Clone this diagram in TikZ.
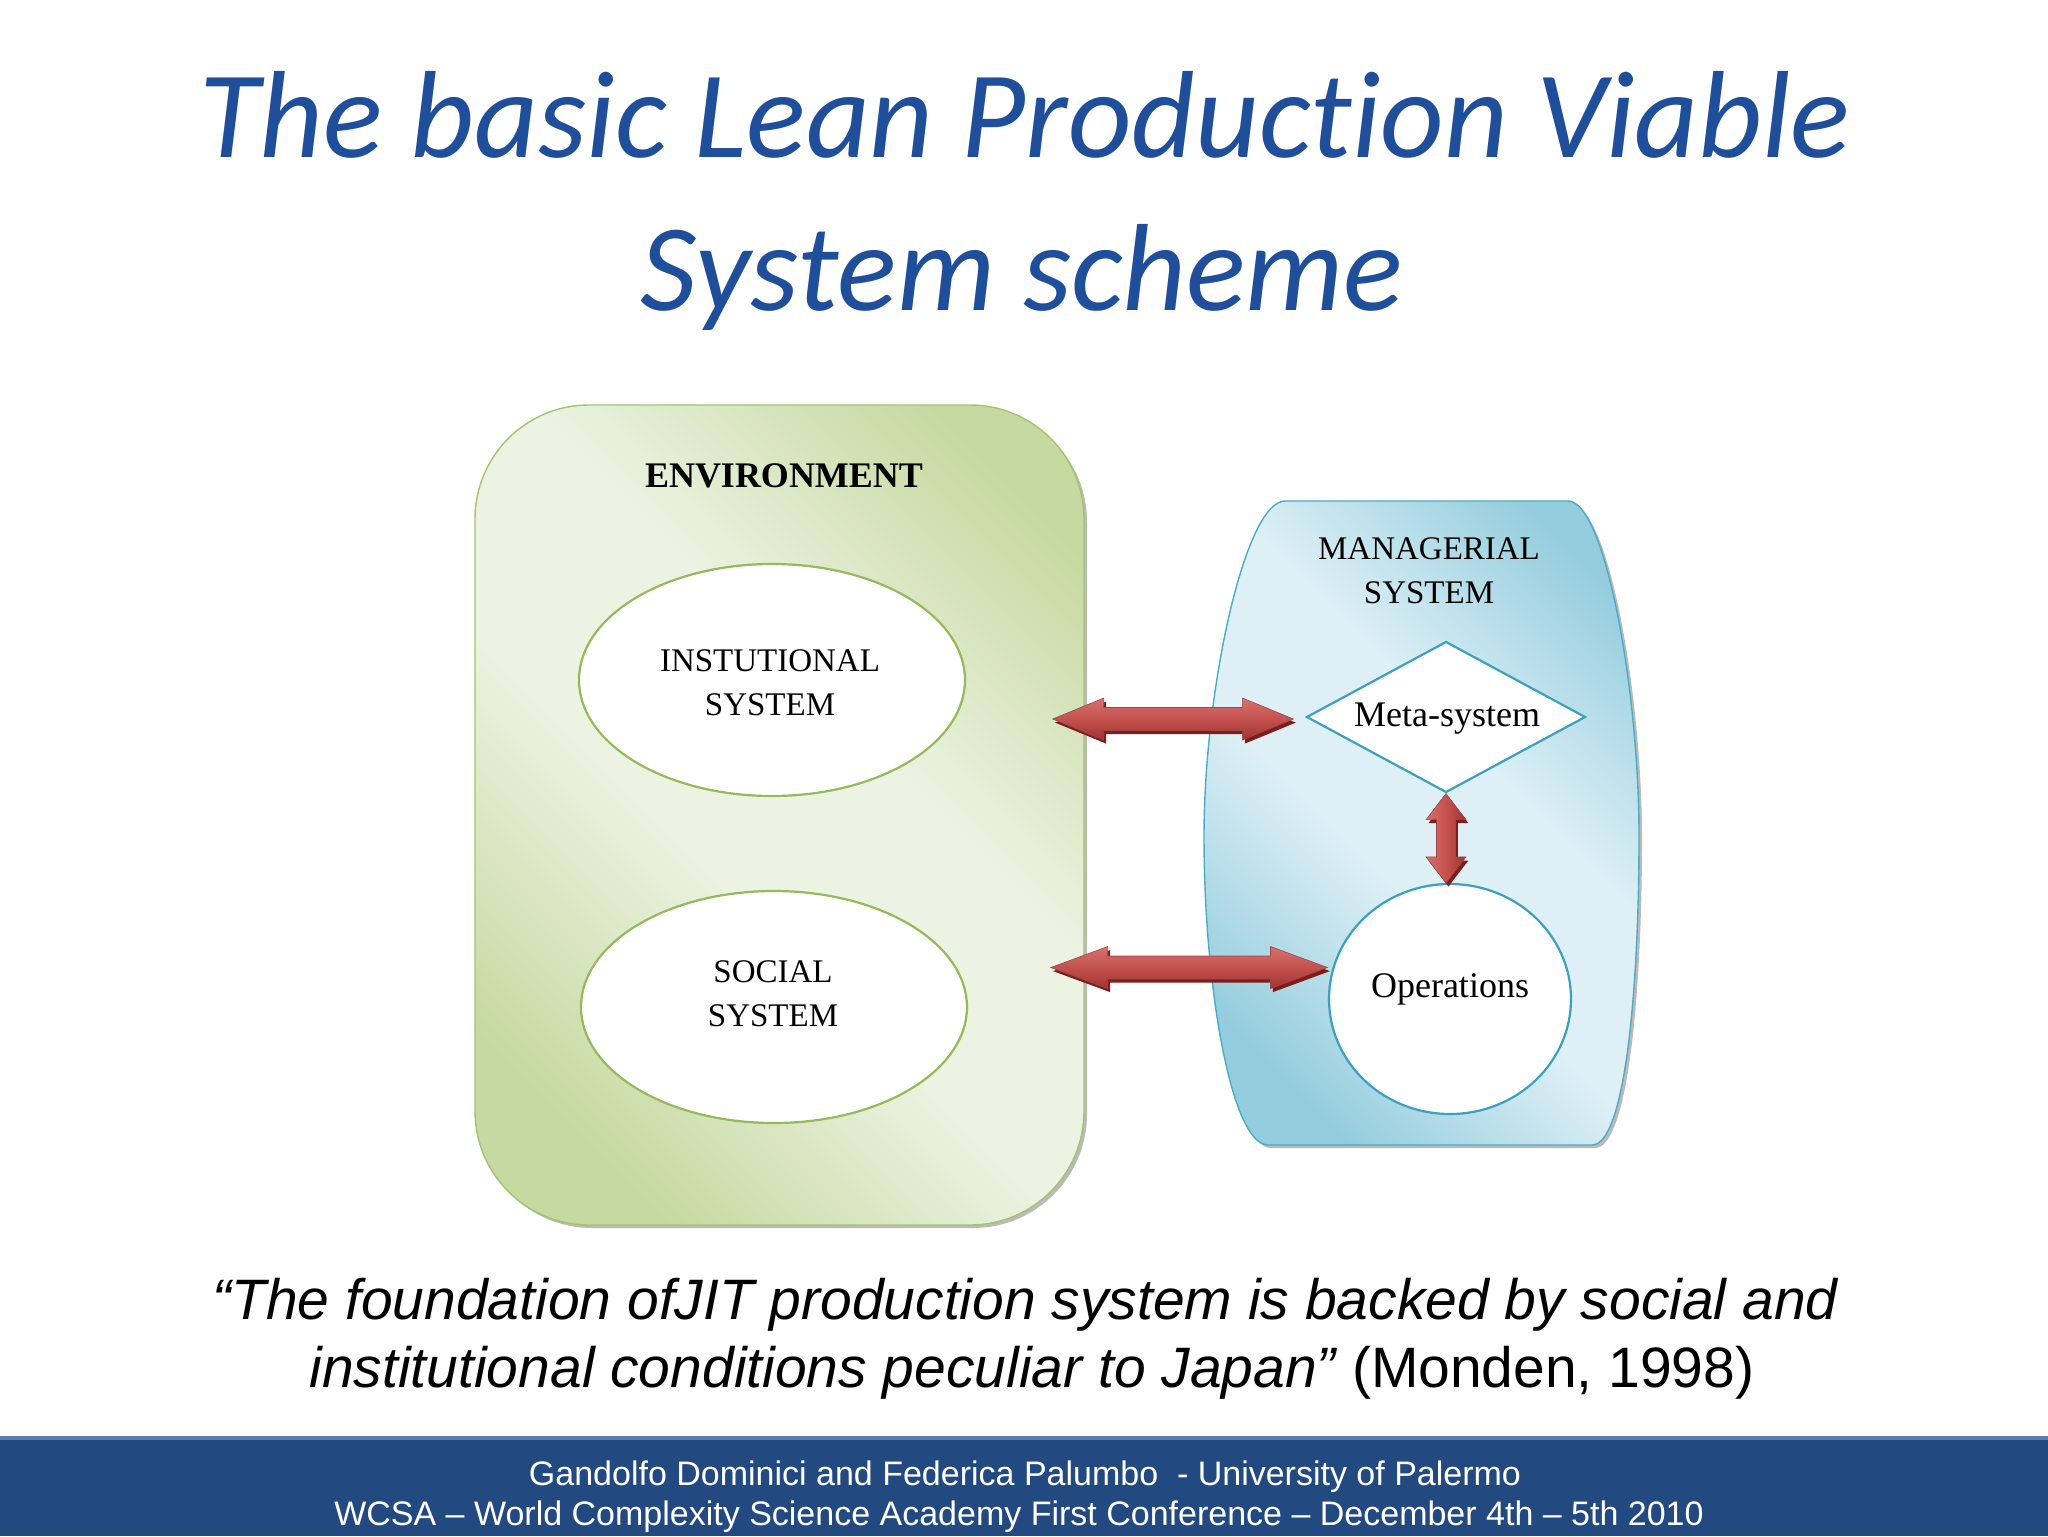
\documentclass[tikz,border=0pt]{standalone}
\usepackage{fontspec}
\setmainfont{Liberation Serif}
\newfontfamily\titlefont[Ligatures={NoCommon,NoRare,NoDiscretionary}]{Carlito}
\newfontfamily\arialfont{Liberation Sans}
\usetikzlibrary{shapes.geometric,shadows,calc}

\definecolor{titleblue}{RGB}{31,78,154}
\definecolor{envborder}{RGB}{165,195,110}
\definecolor{ellborder}{RGB}{150,185,90}
\definecolor{envlight}{RGB}{236,243,226}
\definecolor{envdark}{RGB}{198,217,160}
\definecolor{manlight}{RGB}{222,240,246}
\definecolor{mandark}{RGB}{148,205,221}
\definecolor{manborder}{RGB}{75,172,198}
\definecolor{shapeborder}{RGB}{60,160,190}
\definecolor{arrowtop}{RGB}{215,112,108}
\definecolor{arrowmid}{RGB}{196,82,79}
\definecolor{arrowbot}{RGB}{160,50,47}
\definecolor{arrowshadow}{RGB}{125,30,28}
\definecolor{footerblue}{RGB}{35,74,128}
\definecolor{footerline}{RGB}{95,125,170}

\pgfdeclarehorizontalshading{envshade}{100bp}{color(0bp)=(envdark); color(24bp)=(envdark); color(44bp)=(envlight); color(58bp)=(envlight); color(78bp)=(envdark); color(100bp)=(envdark)}
\pgfdeclarehorizontalshading{manshade}{100bp}{color(0bp)=(mandark); color(24bp)=(mandark); color(44bp)=(manlight); color(58bp)=(manlight); color(78bp)=(mandark); color(100bp)=(mandark)}

% horizontal block double arrow: #1 start, #2 end, #3 head length, #4 head half width, #5 shaft half width
\newcommand\hblockarrow[5]{(#1) -- ($(#1)+(#3,-#4)$) -- ($(#1)+(#3,-#5)$) -- ($(#2)+(-#3,-#5)$) -- ($(#2)+(-#3,-#4)$) -- (#2) -- ($(#2)+(-#3,#4)$) -- ($(#2)+(-#3,#5)$) -- ($(#1)+(#3,#5)$) -- ($(#1)+(#3,#4)$) -- cycle}
% vertical block double arrow (start on top)
\newcommand\vblockarrow[5]{(#1) -- ($(#1)+(#4,#3)$) -- ($(#1)+(#5,#3)$) -- ($(#2)+(#5,-#3)$) -- ($(#2)+(#4,-#3)$) -- (#2) -- ($(#2)+(-#4,-#3)$) -- ($(#2)+(-#5,-#3)$) -- ($(#1)+(-#5,#3)$) -- ($(#1)+(-#4,#3)$) -- cycle}

\tikzset{
  titletext/.style={anchor=base, text=titleblue, font=\titlefont\itshape\fontsize{62}{62}\selectfont, inner sep=0},
  envbox/.style={rectangle, rounded corners=57pt, draw=envborder, line width=0.7pt,
     shading=envshade, shading angle=45,
     drop shadow={shadow xshift=1.5pt, shadow yshift=-1.5pt, fill=black!45, opacity=0.6}},
  sysell/.style={ellipse, draw=ellborder, line width=1.1pt, fill=white, inner sep=0},
  capslabel/.style={align=center, font=\fontsize{16.5}{22}\selectfont, inner sep=0},
  mantext/.style={font=\fontsize{18}{22}\selectfont, inner sep=0},
  manshape/.style={draw=manborder, line width=0.7pt,
     shading=manshade, shading angle=45,
     drop shadow={shadow xshift=1.5pt, shadow yshift=-1.5pt, fill=black!45, opacity=0.6}},
  metabox/.style={diamond, draw=shapeborder, line width=1.1pt, fill=white, inner sep=0},
  opsbox/.style={ellipse, draw=shapeborder, line width=1.1pt, fill=white, inner sep=0},
  arrowbody/.style={top color=arrowtop, bottom color=arrowbot, middle color=arrowmid, draw=arrowshadow!80, line width=0.3pt},
  arrowbodyv/.style={left color=arrowtop, right color=arrowbot, middle color=arrowmid, draw=arrowshadow!80, line width=0.3pt},
  arrowshade/.style={fill=arrowshadow, transform canvas={xshift=1.2pt, yshift=-1.8pt}},
  quotetext/.style={anchor=base, font=\arialfont\fontsize{28.5}{28.5}\selectfont, inner sep=0},
  foottext/.style={anchor=base, text=white, font=\arialfont\fontsize{17}{17}\selectfont, inner sep=0}
}

\begin{document}
\begin{tikzpicture}[x=0.5pt, y=-0.5pt]
\useasboundingbox (0,0) rectangle (2048,1536);
\fill[white] (0,0) rectangle (2048,1536);

% title
\node[titletext] (title1) at (1025,157) {The basic Lean Production Viable};
\node[titletext] (title2) at (1022,310) {System scheme};

% environment
\node[envbox, minimum width=304.5pt, minimum height=410pt] (env) at (779.5,815) {};
\node[anchor=base, font=\bfseries\fontsize{18}{18}\selectfont, inner sep=0] (envlab) at (784,487) {ENVIRONMENT};
\node[sysell, minimum width=193pt, minimum height=116pt] (inst) at (772,680) {};
\node[capslabel] (instlab) at (770,683) {INSTUTIONAL\\SYSTEM};
\node[sysell, minimum width=193pt, minimum height=116pt] (soc) at (774,1007) {};
\node[capslabel] (soclab) at (773,994) {SOCIAL\\SYSTEM};

% managerial system
\path[manshape] (1285,501) -- (1568,501)
   .. controls (1605,501) and (1639,690) .. (1639,836)
   .. controls (1639,990) and (1625,1145) .. (1592,1145)
   -- (1268,1145)
   .. controls (1232,1145) and (1204,990) .. (1204,836)
   .. controls (1204,690) and (1245,501) .. (1285,501) -- cycle;
\node[capslabel] (manlab) at (1429,571) {MANAGERIAL\\SYSTEM};
\node[metabox, minimum width=139.5pt, minimum height=75.5pt] (meta) at (1446,717) {};
\node[mantext] (metalab) at (1447,719) {Meta-system};
\node[opsbox, minimum width=121pt, minimum height=115pt] (ops) at (1450,999) {};
\node[mantext] (opslab) at (1450,989) {Operations};

% arrows
\coordinate (a1s) at ($(env.east |- meta.west)+(-32,2)$);
\coordinate (a1e) at ($(meta.west)+(-12,2)$);
\coordinate (a2s) at ($(env.east |- ops.165)+(-34,0)$);
\coordinate (a2e) at ($(ops.165)+(-5,0)$);
\coordinate (a3s) at (meta.south);
\coordinate (a3e) at (meta.south |- ops.north);

\fill[arrowshade] \hblockarrow{a1s}{a1e}{51}{21}{11.5};
\path[arrowbody] \hblockarrow{a1s}{a1e}{51}{21}{11.5};
\fill[arrowshade] \hblockarrow{a2s}{a2e}{57}{21}{11.5};
\path[arrowbody] \hblockarrow{a2s}{a2e}{57}{21}{11.5};
\fill[arrowshade] \vblockarrow{a3s}{a3e}{26}{20}{9.5};
\path[arrowbodyv] \vblockarrow{a3s}{a3e}{26}{20}{9.5};

% quote
\node[quotetext] (quote1) at (1025,1319) {\itshape “The foundation ofJIT production system is backed by social and};
\node[quotetext] (quote2) at (1032,1387) {\itshape institutional conditions peculiar to Japan”\upshape{} (Monden, 1998)};

% footer
\fill[footerblue] (0,1437) rectangle (2048,1536);
\fill[footerline] (0,1436) rectangle (2048,1440);
\node[foottext] (foot1) at (1025,1485) {Gandolfo Dominici and Federica Palumbo\ \ - University of Palermo};
\node[foottext] (foot2) at (1019,1525) {WCSA – World Complexity Science Academy First Conference – December 4th – 5th 2010};
\end{tikzpicture}
\end{document}
